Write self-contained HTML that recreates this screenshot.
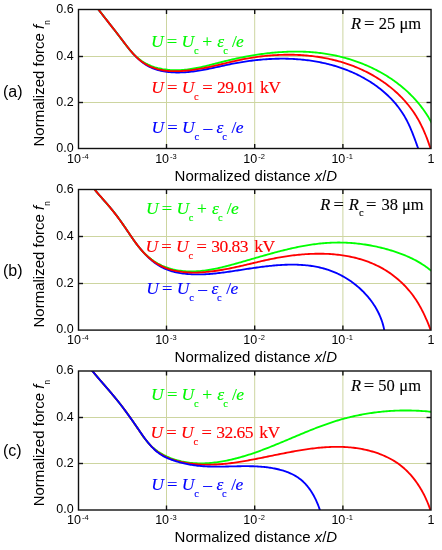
<!DOCTYPE html>
<html><head><meta charset="utf-8"><style>
html,body{margin:0;padding:0;background:#fff;}
svg{display:block;}
.tk{font-family:"Liberation Sans",Arial,sans-serif;font-size:12.5px;fill:#000;}
.sup{font-family:"Liberation Sans",Arial,sans-serif;font-size:7.5px;fill:#000;}
.ax{font-family:"Liberation Sans",Arial,sans-serif;font-size:15px;fill:#000;}
.pl{font-family:"Liberation Sans",Arial,sans-serif;font-size:16px;fill:#000;}
.eq text{font-family:"Liberation Serif","Times New Roman",serif;stroke-width:0.12px;}
.it{font-style:italic;}
.sb{font-size:10.5px;}
.cv path{fill:none;stroke-width:1.85;stroke-linejoin:round;stroke-linecap:butt;}
</style></head><body>
<svg width="442" height="550" viewBox="0 0 442 550">
<rect width="442" height="550" fill="#fff"/>
<clipPath id="cp0"><rect x="78.50" y="9.50" width="352.55" height="139.00"/></clipPath>
<clipPath id="cp1"><rect x="78.50" y="189.50" width="352.55" height="140.60"/></clipPath>
<clipPath id="cp2"><rect x="78.50" y="371.00" width="352.55" height="139.00"/></clipPath>
<g><line x1="166.50" y1="9.50" x2="166.50" y2="148.50" stroke="#cdd5a0" stroke-width="1"/><line x1="254.70" y1="9.50" x2="254.70" y2="148.50" stroke="#cdd5a0" stroke-width="1"/><line x1="342.90" y1="9.50" x2="342.90" y2="148.50" stroke="#cdd5a0" stroke-width="1"/><line x1="78.50" y1="102.50" x2="431.05" y2="102.50" stroke="#cdd5a0" stroke-width="1"/><line x1="78.50" y1="56.50" x2="431.05" y2="56.50" stroke="#cdd5a0" stroke-width="1"/></g>
<g class="cv"><path clip-path="url(#cp0)" d="M96.52,6.96 L97.45,8.18 L98.38,9.40 L99.31,10.62 L100.24,11.83 L101.17,13.03 L102.11,14.24 L103.04,15.44 L103.98,16.64 L104.91,17.84 L105.85,19.03 L106.79,20.23 L107.72,21.42 L108.66,22.61 L109.60,23.81 L110.53,25.00 L111.47,26.19 L112.41,27.38 L113.34,28.58 L114.28,29.77 L115.21,30.97 L116.15,32.17 L117.08,33.37 L118.01,34.57 L118.94,35.77 L119.87,36.98 L120.79,38.20 L121.72,39.41 L122.64,40.63 L123.56,41.85 L124.49,43.07 L125.42,44.29 L126.35,45.51 L127.30,46.72 L128.24,47.92 L129.20,49.11 L130.18,50.30 L131.16,51.47 L132.16,52.62 L133.17,53.76 L134.21,54.88 L135.26,55.98 L136.33,57.06 L137.43,58.11 L138.54,59.14 L139.68,60.14 L140.84,61.10 L142.02,62.04 L143.22,62.93 L144.45,63.79 L145.70,64.61 L146.97,65.39 L148.27,66.12 L149.59,66.81 L150.93,67.45 L152.30,68.04 L153.69,68.60 L155.09,69.11 L156.52,69.58 L157.96,70.01 L159.42,70.40 L160.89,70.75 L162.37,71.07 L163.87,71.35 L165.37,71.60 L166.89,71.82 L168.41,72.00 L169.94,72.15 L171.48,72.28 L173.02,72.37 L174.56,72.44 L176.11,72.48 L177.66,72.49 L179.20,72.48 L180.75,72.45 L182.29,72.40 L183.83,72.32 L185.36,72.22 L186.89,72.11 L188.41,71.98 L189.93,71.83 L191.44,71.66 L192.95,71.48 L194.46,71.29 L195.96,71.08 L197.46,70.85 L198.95,70.62 L200.44,70.37 L201.93,70.11 L203.42,69.85 L204.91,69.57 L206.39,69.28 L207.87,68.99 L209.35,68.69 L210.83,68.39 L212.30,68.08 L213.78,67.76 L215.26,67.44 L216.73,67.12 L218.21,66.80 L219.69,66.48 L221.16,66.15 L222.64,65.83 L224.12,65.51 L225.60,65.19 L227.08,64.87 L228.56,64.56 L230.05,64.25 L231.54,63.95 L233.03,63.66 L234.52,63.37 L236.02,63.09 L237.52,62.82 L239.02,62.55 L240.52,62.29 L242.03,62.04 L243.54,61.80 L245.05,61.57 L246.56,61.35 L248.08,61.13 L249.60,60.92 L251.12,60.72 L252.64,60.53 L254.16,60.35 L255.69,60.18 L257.21,60.01 L258.74,59.86 L260.27,59.71 L261.79,59.58 L263.32,59.45 L264.86,59.33 L266.39,59.22 L267.92,59.12 L269.45,59.03 L270.98,58.96 L272.52,58.89 L274.05,58.83 L275.59,58.78 L277.12,58.74 L278.65,58.71 L280.19,58.69 L281.72,58.68 L283.25,58.69 L284.78,58.70 L286.31,58.73 L287.84,58.76 L289.37,58.81 L290.90,58.86 L292.43,58.93 L293.96,59.01 L295.48,59.10 L297.00,59.21 L298.53,59.32 L300.05,59.45 L301.57,59.58 L303.08,59.73 L304.60,59.89 L306.11,60.07 L307.62,60.25 L309.13,60.45 L310.63,60.66 L312.14,60.88 L313.64,61.11 L315.13,61.36 L316.63,61.62 L318.12,61.89 L319.61,62.18 L321.10,62.48 L322.58,62.79 L324.06,63.11 L325.53,63.45 L327.00,63.80 L328.47,64.17 L329.94,64.55 L331.40,64.94 L332.85,65.34 L334.31,65.76 L335.75,66.20 L337.20,66.65 L338.64,67.11 L340.07,67.58 L341.50,68.07 L342.93,68.58 L344.35,69.10 L345.76,69.63 L347.17,70.18 L348.58,70.74 L349.98,71.32 L351.37,71.91 L352.76,72.52 L354.14,73.14 L355.52,73.78 L356.89,74.44 L358.25,75.11 L359.61,75.79 L360.96,76.49 L362.30,77.20 L363.64,77.93 L364.96,78.68 L366.28,79.44 L367.59,80.22 L368.89,81.01 L370.18,81.81 L371.46,82.64 L372.73,83.47 L373.98,84.33 L375.23,85.20 L376.47,86.08 L377.69,86.98 L378.90,87.89 L380.10,88.82 L381.29,89.77 L382.46,90.73 L383.62,91.71 L384.77,92.70 L385.90,93.70 L387.01,94.73 L388.11,95.77 L389.20,96.82 L390.27,97.89 L391.32,98.97 L392.36,100.07 L393.38,101.19 L394.39,102.32 L395.37,103.47 L396.34,104.63 L397.29,105.81 L398.23,107.00 L399.14,108.21 L400.03,109.44 L400.91,110.68 L401.76,111.93 L402.60,113.21 L403.41,114.49 L404.20,115.80 L404.97,117.11 L405.72,118.45 L406.45,119.80 L407.16,121.16 L407.85,122.54 L408.52,123.92 L409.17,125.32 L409.81,126.73 L410.43,128.14 L411.04,129.57 L411.63,130.99 L412.22,132.43 L412.79,133.86 L413.34,135.30 L413.89,136.74 L414.43,138.18 L414.97,139.62 L415.49,141.06 L416.02,142.49 L416.53,143.92 L417.04,145.34 L417.55,146.76 L418.06,148.17 L418.57,149.57 L419.07,150.96" stroke="#0000ff"/>
<path clip-path="url(#cp0)" d="M96.51,6.98 L97.44,8.18 L98.36,9.37 L99.28,10.57 L100.21,11.75 L101.13,12.94 L102.05,14.13 L102.98,15.31 L103.91,16.50 L104.83,17.68 L105.76,18.86 L106.68,20.04 L107.61,21.22 L108.53,22.40 L109.46,23.59 L110.38,24.77 L111.31,25.95 L112.23,27.13 L113.15,28.32 L114.07,29.50 L114.99,30.69 L115.91,31.88 L116.83,33.07 L117.75,34.27 L118.66,35.47 L119.58,36.67 L120.49,37.87 L121.40,39.08 L122.31,40.29 L123.22,41.50 L124.13,42.71 L125.05,43.92 L125.97,45.12 L126.90,46.31 L127.84,47.49 L128.79,48.67 L129.75,49.82 L130.73,50.96 L131.72,52.08 L132.73,53.18 L133.77,54.26 L134.82,55.31 L135.90,56.33 L137.01,57.32 L138.14,58.27 L139.29,59.20 L140.48,60.09 L141.68,60.94 L142.92,61.75 L144.18,62.53 L145.47,63.26 L146.78,63.95 L148.12,64.60 L149.48,65.21 L150.86,65.79 L152.26,66.32 L153.68,66.82 L155.11,67.28 L156.56,67.71 L158.02,68.10 L159.50,68.45 L160.98,68.77 L162.47,69.06 L163.98,69.31 L165.48,69.53 L166.99,69.72 L168.51,69.88 L170.02,70.01 L171.54,70.10 L173.05,70.17 L174.56,70.21 L176.07,70.22 L177.57,70.20 L179.08,70.16 L180.57,70.09 L182.07,70.00 L183.56,69.89 L185.04,69.75 L186.53,69.59 L188.01,69.41 L189.49,69.21 L190.97,69.00 L192.44,68.76 L193.92,68.51 L195.39,68.25 L196.86,67.97 L198.33,67.68 L199.80,67.37 L201.26,67.05 L202.73,66.73 L204.19,66.39 L205.66,66.05 L207.12,65.69 L208.58,65.34 L210.05,64.97 L211.51,64.60 L212.97,64.23 L214.44,63.86 L215.90,63.48 L217.37,63.11 L218.83,62.73 L220.30,62.36 L221.77,61.98 L223.24,61.62 L224.71,61.25 L226.18,60.89 L227.65,60.54 L229.13,60.19 L230.60,59.85 L232.08,59.51 L233.56,59.17 L235.04,58.85 L236.52,58.52 L238.00,58.21 L239.49,57.90 L240.97,57.59 L242.46,57.30 L243.95,57.00 L245.43,56.72 L246.92,56.44 L248.41,56.17 L249.90,55.90 L251.39,55.64 L252.89,55.39 L254.38,55.14 L255.87,54.91 L257.37,54.67 L258.86,54.45 L260.36,54.23 L261.85,54.03 L263.35,53.83 L264.84,53.63 L266.34,53.45 L267.84,53.27 L269.34,53.10 L270.84,52.94 L272.33,52.79 L273.83,52.65 L275.33,52.51 L276.83,52.38 L278.33,52.27 L279.83,52.16 L281.33,52.06 L282.82,51.97 L284.32,51.89 L285.82,51.81 L287.32,51.75 L288.82,51.70 L290.31,51.66 L291.81,51.62 L293.31,51.60 L294.81,51.59 L296.30,51.58 L297.80,51.59 L299.29,51.61 L300.79,51.64 L302.28,51.68 L303.78,51.73 L305.27,51.79 L306.76,51.86 L308.25,51.94 L309.74,52.04 L311.23,52.14 L312.72,52.26 L314.21,52.39 L315.70,52.53 L317.18,52.68 L318.67,52.84 L320.15,53.02 L321.63,53.20 L323.11,53.40 L324.59,53.62 L326.07,53.84 L327.55,54.08 L329.03,54.33 L330.50,54.59 L331.97,54.87 L333.45,55.15 L334.92,55.46 L336.39,55.77 L337.85,56.10 L339.32,56.44 L340.78,56.79 L342.24,57.16 L343.70,57.54 L345.15,57.94 L346.61,58.34 L348.05,58.76 L349.50,59.20 L350.94,59.64 L352.38,60.10 L353.81,60.57 L355.24,61.06 L356.67,61.56 L358.09,62.07 L359.51,62.59 L360.92,63.13 L362.33,63.68 L363.73,64.25 L365.12,64.82 L366.52,65.41 L367.90,66.02 L369.28,66.63 L370.65,67.26 L372.02,67.91 L373.38,68.56 L374.73,69.23 L376.08,69.91 L377.41,70.61 L378.75,71.31 L380.07,72.03 L381.39,72.77 L382.69,73.51 L384.00,74.27 L385.29,75.05 L386.57,75.83 L387.85,76.63 L389.11,77.44 L390.37,78.27 L391.62,79.10 L392.86,79.95 L394.08,80.82 L395.30,81.70 L396.51,82.58 L397.71,83.49 L398.90,84.40 L400.08,85.33 L401.25,86.27 L402.40,87.23 L403.55,88.19 L404.68,89.17 L405.81,90.17 L406.92,91.17 L408.02,92.19 L409.11,93.23 L410.18,94.27 L411.24,95.33 L412.29,96.40 L413.33,97.48 L414.36,98.58 L415.37,99.69 L416.36,100.81 L417.35,101.95 L418.32,103.09 L419.28,104.26 L420.22,105.43 L421.15,106.62 L422.06,107.82 L422.96,109.03 L423.84,110.25 L424.71,111.49 L425.57,112.74 L426.41,114.01 L427.23,115.28 L428.04,116.57 L428.83,117.88 L429.60,119.19 L430.36,120.52 L431.10,121.86 L431.83,123.22" stroke="#00ff00"/>
<path clip-path="url(#cp0)" d="M96.54,6.95 L97.49,8.22 L98.44,9.48 L99.40,10.74 L100.35,11.99 L101.31,13.24 L102.28,14.49 L103.24,15.73 L104.21,16.97 L105.18,18.21 L106.14,19.44 L107.11,20.68 L108.09,21.91 L109.06,23.14 L110.03,24.37 L111.00,25.60 L111.97,26.83 L112.94,28.06 L113.91,29.29 L114.88,30.53 L115.85,31.76 L116.81,33.00 L117.77,34.24 L118.74,35.49 L119.70,36.74 L120.65,37.99 L121.61,39.24 L122.56,40.50 L123.51,41.77 L124.46,43.03 L125.42,44.29 L126.38,45.55 L127.35,46.80 L128.33,48.04 L129.32,49.26 L130.33,50.48 L131.35,51.68 L132.39,52.86 L133.45,54.03 L134.54,55.17 L135.64,56.28 L136.78,57.37 L137.94,58.43 L139.12,59.46 L140.33,60.45 L141.57,61.41 L142.83,62.32 L144.11,63.20 L145.42,64.03 L146.76,64.81 L148.12,65.54 L149.50,66.22 L150.91,66.85 L152.34,67.43 L153.79,67.96 L155.27,68.44 L156.75,68.88 L158.26,69.28 L159.78,69.64 L161.32,69.95 L162.87,70.23 L164.43,70.47 L166.00,70.67 L167.58,70.83 L169.17,70.97 L170.76,71.07 L172.36,71.14 L173.96,71.18 L175.57,71.20 L177.17,71.18 L178.78,71.15 L180.38,71.09 L181.98,71.00 L183.58,70.90 L185.17,70.78 L186.75,70.64 L188.33,70.48 L189.90,70.30 L191.47,70.11 L193.04,69.90 L194.60,69.68 L196.15,69.45 L197.70,69.20 L199.25,68.94 L200.79,68.66 L202.33,68.38 L203.87,68.09 L205.40,67.78 L206.93,67.47 L208.46,67.15 L209.98,66.82 L211.51,66.49 L213.03,66.15 L214.55,65.80 L216.07,65.45 L217.59,65.10 L219.11,64.74 L220.62,64.38 L222.14,64.02 L223.66,63.66 L225.17,63.30 L226.69,62.93 L228.21,62.57 L229.73,62.22 L231.25,61.86 L232.77,61.51 L234.29,61.16 L235.82,60.82 L237.34,60.48 L238.87,60.15 L240.40,59.83 L241.94,59.51 L243.48,59.21 L245.02,58.91 L246.56,58.62 L248.11,58.34 L249.66,58.07 L251.21,57.81 L252.77,57.56 L254.33,57.32 L255.89,57.09 L257.45,56.87 L259.02,56.67 L260.59,56.47 L262.16,56.28 L263.73,56.10 L265.30,55.93 L266.88,55.77 L268.46,55.63 L270.03,55.49 L271.61,55.36 L273.19,55.25 L274.77,55.15 L276.36,55.05 L277.94,54.97 L279.52,54.90 L281.11,54.84 L282.69,54.80 L284.28,54.76 L285.86,54.73 L287.44,54.72 L289.03,54.72 L290.61,54.73 L292.20,54.75 L293.78,54.79 L295.36,54.83 L296.94,54.89 L298.52,54.96 L300.10,55.04 L301.68,55.14 L303.25,55.24 L304.83,55.36 L306.40,55.49 L307.97,55.64 L309.54,55.80 L311.11,55.97 L312.68,56.15 L314.24,56.34 L315.80,56.55 L317.36,56.77 L318.92,57.01 L320.47,57.26 L322.02,57.52 L323.56,57.79 L325.11,58.08 L326.65,58.38 L328.19,58.70 L329.72,59.03 L331.25,59.37 L332.78,59.73 L334.30,60.10 L335.82,60.49 L337.33,60.88 L338.84,61.30 L340.34,61.72 L341.84,62.17 L343.34,62.62 L344.83,63.09 L346.32,63.58 L347.80,64.08 L349.27,64.59 L350.74,65.12 L352.21,65.67 L353.67,66.23 L355.12,66.80 L356.57,67.39 L358.01,68.00 L359.44,68.62 L360.87,69.25 L362.30,69.90 L363.71,70.57 L365.12,71.25 L366.52,71.95 L367.92,72.66 L369.31,73.39 L370.69,74.14 L372.06,74.90 L373.42,75.67 L374.78,76.46 L376.12,77.27 L377.46,78.09 L378.79,78.93 L380.11,79.78 L381.42,80.65 L382.71,81.53 L384.00,82.43 L385.28,83.34 L386.54,84.27 L387.80,85.21 L389.04,86.17 L390.27,87.15 L391.49,88.14 L392.69,89.14 L393.88,90.16 L395.06,91.19 L396.23,92.24 L397.38,93.30 L398.52,94.38 L399.64,95.48 L400.75,96.58 L401.85,97.71 L402.93,98.84 L403.99,100.00 L405.04,101.16 L406.07,102.34 L407.09,103.54 L408.09,104.75 L409.07,105.98 L410.04,107.22 L410.99,108.47 L411.92,109.74 L412.83,111.02 L413.72,112.32 L414.60,113.63 L415.46,114.96 L416.30,116.30 L417.11,117.65 L417.91,119.02 L418.69,120.40 L419.46,121.80 L420.20,123.20 L420.92,124.62 L421.63,126.05 L422.32,127.48 L422.99,128.93 L423.65,130.38 L424.29,131.84 L424.91,133.30 L425.52,134.76 L426.11,136.23 L426.69,137.71 L427.25,139.18 L427.80,140.66 L428.33,142.13 L428.86,143.61 L429.36,145.08 L429.86,146.55 L430.34,148.01 L430.82,149.47 L431.28,150.93" stroke="#ff0000"/>
</g>
<g stroke="#111" stroke-width="1.4" fill="none"><rect x="78.50" y="9.50" width="352.55" height="139.00"/><line x1="166.50" y1="9.50" x2="166.50" y2="14.00"/><line x1="166.50" y1="148.50" x2="166.50" y2="144.00"/><line x1="254.70" y1="9.50" x2="254.70" y2="14.00"/><line x1="254.70" y1="148.50" x2="254.70" y2="144.00"/><line x1="342.90" y1="9.50" x2="342.90" y2="14.00"/><line x1="342.90" y1="148.50" x2="342.90" y2="144.00"/><line x1="78.50" y1="102.50" x2="83.00" y2="102.50"/><line x1="431.05" y1="102.50" x2="426.55" y2="102.50"/><line x1="78.50" y1="56.50" x2="83.00" y2="56.50"/><line x1="431.05" y1="56.50" x2="426.55" y2="56.50"/></g>
<text class="tk" x="73.6" y="151.80" text-anchor="end">0.0</text><text class="tk" x="73.6" y="105.80" text-anchor="end">0.2</text><text class="tk" x="73.6" y="59.80" text-anchor="end">0.4</text><text class="tk" x="73.6" y="12.80" text-anchor="end">0.6</text><text class="tk" x="67.00" y="162.60">10<tspan class="sup" dx="1" dy="-3.9">-4</tspan></text><text class="tk" x="155.14" y="162.60">10<tspan class="sup" dx="1" dy="-3.9">-3</tspan></text><text class="tk" x="243.28" y="162.60">10<tspan class="sup" dx="1" dy="-3.9">-2</tspan></text><text class="tk" x="331.41" y="162.60">10<tspan class="sup" dx="1" dy="-3.9">-1</tspan></text><text class="tk" x="427.45" y="162.60">1</text><text class="ax" x="174.6" y="180.60">Normalized distance <tspan class="it">x</tspan>/<tspan class="it">D</tspan></text><text class="ax" transform="translate(43.8,146.50) rotate(-90)">Normalized force <tspan class="it">f</tspan><tspan font-size="8.3" dy="6">n</tspan></text><text class="pl" x="3" y="97.00">(a)</text>
<g><line x1="166.50" y1="189.50" x2="166.50" y2="330.10" stroke="#cdd5a0" stroke-width="1"/><line x1="254.70" y1="189.50" x2="254.70" y2="330.10" stroke="#cdd5a0" stroke-width="1"/><line x1="342.90" y1="189.50" x2="342.90" y2="330.10" stroke="#cdd5a0" stroke-width="1"/><line x1="78.50" y1="283.50" x2="431.05" y2="283.50" stroke="#cdd5a0" stroke-width="1"/><line x1="78.50" y1="236.50" x2="431.05" y2="236.50" stroke="#cdd5a0" stroke-width="1"/></g>
<g class="cv"><path clip-path="url(#cp1)" d="M92.53,186.97 L93.40,188.08 L94.27,189.18 L95.16,190.27 L96.06,191.35 L96.96,192.43 L97.87,193.50 L98.79,194.56 L99.71,195.62 L100.63,196.68 L101.56,197.73 L102.49,198.78 L103.42,199.83 L104.35,200.88 L105.29,201.93 L106.22,202.98 L107.14,204.03 L108.07,205.08 L108.99,206.14 L109.91,207.20 L110.81,208.27 L111.72,209.34 L112.61,210.42 L113.50,211.50 L114.38,212.59 L115.24,213.70 L116.10,214.81 L116.94,215.92 L117.78,217.05 L118.61,218.18 L119.43,219.32 L120.24,220.47 L121.05,221.62 L121.85,222.77 L122.65,223.93 L123.44,225.09 L124.23,226.26 L125.02,227.42 L125.81,228.59 L126.59,229.76 L127.38,230.92 L128.17,232.09 L128.95,233.26 L129.74,234.42 L130.54,235.58 L131.34,236.74 L132.14,237.89 L132.94,239.04 L133.76,240.19 L134.58,241.33 L135.41,242.46 L136.24,243.58 L137.09,244.70 L137.95,245.81 L138.81,246.91 L139.69,248.00 L140.58,249.08 L141.49,250.15 L142.40,251.21 L143.33,252.26 L144.28,253.29 L145.24,254.31 L146.22,255.31 L147.21,256.30 L148.22,257.27 L149.24,258.22 L150.28,259.15 L151.33,260.06 L152.40,260.94 L153.49,261.81 L154.59,262.65 L155.71,263.46 L156.85,264.25 L158.01,265.01 L159.18,265.74 L160.38,266.44 L161.59,267.11 L162.82,267.75 L164.07,268.36 L165.33,268.93 L166.62,269.47 L167.93,269.97 L169.25,270.44 L170.59,270.87 L171.94,271.28 L173.31,271.65 L174.68,272.00 L176.07,272.31 L177.46,272.60 L178.86,272.87 L180.27,273.11 L181.68,273.32 L183.09,273.52 L184.50,273.69 L185.91,273.85 L187.32,273.98 L188.72,274.10 L190.12,274.19 L191.52,274.28 L192.91,274.34 L194.31,274.39 L195.70,274.42 L197.09,274.44 L198.48,274.44 L199.87,274.43 L201.25,274.40 L202.63,274.36 L204.02,274.31 L205.40,274.25 L206.78,274.17 L208.16,274.08 L209.54,273.99 L210.92,273.88 L212.30,273.76 L213.67,273.63 L215.05,273.49 L216.43,273.35 L217.81,273.19 L219.19,273.03 L220.57,272.86 L221.95,272.69 L223.33,272.51 L224.71,272.32 L226.10,272.13 L227.48,271.93 L228.87,271.73 L230.25,271.53 L231.64,271.32 L233.04,271.11 L234.43,270.90 L235.82,270.69 L237.22,270.47 L238.62,270.25 L240.02,270.04 L241.43,269.82 L242.83,269.60 L244.24,269.39 L245.65,269.17 L247.06,268.96 L248.47,268.74 L249.89,268.53 L251.30,268.32 L252.72,268.12 L254.13,267.91 L255.55,267.71 L256.97,267.51 L258.39,267.32 L259.81,267.13 L261.23,266.95 L262.65,266.76 L264.07,266.59 L265.49,266.42 L266.91,266.25 L268.33,266.10 L269.75,265.94 L271.17,265.80 L272.59,265.66 L274.00,265.53 L275.42,265.41 L276.84,265.29 L278.25,265.18 L279.67,265.08 L281.08,264.99 L282.49,264.91 L283.91,264.84 L285.32,264.78 L286.72,264.73 L288.13,264.69 L289.53,264.67 L290.94,264.65 L292.34,264.64 L293.73,264.65 L295.13,264.67 L296.52,264.70 L297.92,264.75 L299.30,264.80 L300.69,264.87 L302.07,264.96 L303.45,265.06 L304.83,265.17 L306.20,265.30 L307.57,265.45 L308.94,265.61 L310.30,265.78 L311.66,265.98 L313.02,266.19 L314.37,266.41 L315.72,266.65 L317.07,266.92 L318.41,267.19 L319.74,267.49 L321.08,267.81 L322.40,268.14 L323.72,268.50 L325.04,268.87 L326.36,269.26 L327.66,269.68 L328.97,270.11 L330.27,270.56 L331.56,271.04 L332.85,271.54 L334.13,272.06 L335.40,272.60 L336.67,273.17 L337.94,273.75 L339.20,274.36 L340.45,274.99 L341.69,275.64 L342.92,276.32 L344.15,277.01 L345.37,277.72 L346.58,278.46 L347.77,279.21 L348.96,279.99 L350.14,280.78 L351.31,281.59 L352.46,282.43 L353.60,283.28 L354.73,284.14 L355.85,285.03 L356.95,285.94 L358.04,286.86 L359.12,287.80 L360.18,288.75 L361.22,289.72 L362.25,290.71 L363.26,291.72 L364.26,292.74 L365.24,293.77 L366.20,294.82 L367.14,295.89 L368.06,296.97 L368.97,298.07 L369.86,299.17 L370.72,300.30 L371.57,301.43 L372.39,302.58 L373.20,303.74 L373.98,304.92 L374.74,306.11 L375.47,307.30 L376.19,308.52 L376.88,309.74 L377.54,310.97 L378.19,312.22 L378.80,313.47 L379.39,314.74 L379.96,316.01 L380.50,317.30 L381.01,318.59 L381.49,319.89 L381.95,321.21 L382.38,322.53 L382.78,323.86 L383.15,325.19 L383.49,326.54 L383.81,327.89 L384.09,329.25 L384.34,330.62 L384.56,331.99" stroke="#0000ff"/>
<path clip-path="url(#cp1)" d="M92.51,186.99 L93.44,188.15 L94.39,189.31 L95.34,190.45 L96.30,191.60 L97.26,192.73 L98.23,193.86 L99.21,194.99 L100.19,196.12 L101.17,197.24 L102.16,198.36 L103.14,199.48 L104.13,200.60 L105.11,201.72 L106.10,202.84 L107.08,203.96 L108.05,205.09 L109.03,206.22 L109.99,207.35 L110.95,208.49 L111.91,209.63 L112.85,210.78 L113.79,211.94 L114.71,213.11 L115.63,214.28 L116.54,215.46 L117.43,216.65 L118.32,217.84 L119.20,219.04 L120.07,220.25 L120.93,221.46 L121.79,222.68 L122.64,223.90 L123.49,225.13 L124.33,226.36 L125.17,227.59 L126.01,228.82 L126.85,230.06 L127.69,231.30 L128.53,232.54 L129.36,233.77 L130.20,235.01 L131.04,236.25 L131.89,237.48 L132.74,238.72 L133.59,239.95 L134.45,241.17 L135.33,242.38 L136.21,243.59 L137.10,244.78 L138.01,245.96 L138.94,247.12 L139.88,248.27 L140.84,249.40 L141.83,250.51 L142.83,251.60 L143.86,252.67 L144.90,253.71 L145.97,254.73 L147.06,255.73 L148.17,256.70 L149.31,257.65 L150.46,258.57 L151.63,259.46 L152.83,260.32 L154.04,261.15 L155.28,261.96 L156.53,262.73 L157.80,263.48 L159.10,264.19 L160.41,264.86 L161.74,265.51 L163.09,266.12 L164.46,266.70 L165.84,267.24 L167.25,267.74 L168.67,268.21 L170.11,268.64 L171.56,269.04 L173.02,269.41 L174.49,269.74 L175.98,270.04 L177.47,270.31 L178.96,270.55 L180.46,270.76 L181.96,270.94 L183.47,271.09 L184.97,271.21 L186.47,271.30 L187.97,271.37 L189.47,271.42 L190.96,271.44 L192.45,271.43 L193.94,271.40 L195.42,271.35 L196.91,271.28 L198.39,271.18 L199.87,271.06 L201.34,270.93 L202.82,270.77 L204.29,270.60 L205.76,270.41 L207.23,270.20 L208.69,269.97 L210.16,269.73 L211.62,269.48 L213.08,269.20 L214.54,268.92 L216.00,268.62 L217.45,268.31 L218.91,267.99 L220.36,267.66 L221.81,267.32 L223.26,266.97 L224.71,266.61 L226.16,266.24 L227.61,265.87 L229.06,265.49 L230.50,265.10 L231.95,264.71 L233.39,264.31 L234.83,263.91 L236.28,263.51 L237.72,263.10 L239.16,262.70 L240.60,262.29 L242.04,261.88 L243.48,261.46 L244.92,261.05 L246.36,260.63 L247.80,260.22 L249.24,259.80 L250.68,259.38 L252.11,258.97 L253.55,258.55 L254.99,258.13 L256.43,257.72 L257.86,257.30 L259.30,256.89 L260.74,256.48 L262.18,256.07 L263.62,255.66 L265.05,255.25 L266.49,254.85 L267.93,254.44 L269.37,254.04 L270.81,253.65 L272.25,253.25 L273.69,252.86 L275.13,252.47 L276.57,252.09 L278.01,251.71 L279.45,251.34 L280.89,250.97 L282.33,250.60 L283.78,250.24 L285.22,249.89 L286.67,249.54 L288.11,249.19 L289.56,248.86 L291.00,248.52 L292.45,248.20 L293.90,247.88 L295.35,247.57 L296.80,247.26 L298.25,246.96 L299.70,246.67 L301.16,246.39 L302.61,246.12 L304.07,245.85 L305.53,245.59 L306.98,245.34 L308.44,245.10 L309.90,244.87 L311.37,244.65 L312.83,244.44 L314.29,244.24 L315.76,244.05 L317.23,243.86 L318.70,243.69 L320.17,243.53 L321.64,243.38 L323.12,243.25 L324.59,243.12 L326.07,243.00 L327.55,242.90 L329.03,242.81 L330.51,242.73 L332.00,242.67 L333.49,242.61 L334.97,242.57 L336.47,242.55 L337.96,242.54 L339.45,242.54 L340.95,242.55 L342.45,242.58 L343.94,242.62 L345.44,242.67 L346.94,242.74 L348.44,242.82 L349.94,242.91 L351.44,243.01 L352.94,243.13 L354.44,243.26 L355.94,243.40 L357.44,243.56 L358.94,243.73 L360.44,243.91 L361.93,244.10 L363.43,244.31 L364.92,244.53 L366.41,244.76 L367.90,245.00 L369.38,245.26 L370.86,245.52 L372.34,245.80 L373.82,246.09 L375.29,246.40 L376.76,246.71 L378.23,247.04 L379.69,247.38 L381.15,247.73 L382.61,248.09 L384.06,248.46 L385.50,248.85 L386.94,249.25 L388.38,249.65 L389.81,250.07 L391.23,250.50 L392.65,250.95 L394.06,251.40 L395.47,251.86 L396.87,252.34 L398.26,252.82 L399.65,253.32 L401.03,253.83 L402.41,254.35 L403.77,254.89 L405.13,255.44 L406.49,256.01 L407.83,256.59 L409.17,257.18 L410.50,257.80 L411.83,258.43 L413.15,259.08 L414.46,259.74 L415.76,260.43 L417.05,261.13 L418.34,261.86 L419.62,262.60 L420.89,263.37 L422.15,264.16 L423.40,264.97 L424.65,265.81 L425.89,266.67 L427.12,267.55 L428.34,268.46 L429.55,269.40 L430.76,270.36 L431.95,271.35" stroke="#00ff00"/>
<path clip-path="url(#cp1)" d="M92.46,187.02 L93.49,188.25 L94.52,189.47 L95.56,190.69 L96.61,191.90 L97.66,193.11 L98.72,194.32 L99.78,195.52 L100.83,196.72 L101.89,197.93 L102.95,199.13 L104.00,200.33 L105.05,201.54 L106.10,202.74 L107.14,203.96 L108.17,205.17 L109.20,206.39 L110.21,207.62 L111.22,208.85 L112.22,210.09 L113.21,211.34 L114.20,212.59 L115.17,213.85 L116.14,215.11 L117.11,216.38 L118.06,217.65 L119.01,218.93 L119.95,220.21 L120.89,221.50 L121.82,222.80 L122.75,224.10 L123.67,225.41 L124.58,226.72 L125.49,228.04 L126.40,229.36 L127.30,230.69 L128.21,232.02 L129.11,233.35 L130.01,234.68 L130.91,236.01 L131.82,237.34 L132.73,238.67 L133.65,239.98 L134.58,241.29 L135.52,242.60 L136.48,243.89 L137.44,245.17 L138.43,246.43 L139.42,247.69 L140.44,248.92 L141.48,250.14 L142.54,251.33 L143.62,252.51 L144.72,253.66 L145.85,254.79 L147.00,255.89 L148.17,256.97 L149.36,258.01 L150.57,259.03 L151.80,260.01 L153.06,260.96 L154.33,261.88 L155.63,262.76 L156.95,263.60 L158.29,264.40 L159.64,265.16 L161.02,265.88 L162.43,266.55 L163.84,267.19 L165.28,267.78 L166.74,268.34 L168.21,268.85 L169.70,269.33 L171.20,269.77 L172.72,270.18 L174.25,270.55 L175.80,270.88 L177.35,271.19 L178.92,271.46 L180.50,271.70 L182.09,271.91 L183.69,272.08 L185.29,272.23 L186.91,272.36 L188.53,272.45 L190.15,272.52 L191.78,272.56 L193.42,272.58 L195.06,272.58 L196.70,272.55 L198.34,272.50 L199.98,272.43 L201.63,272.34 L203.27,272.23 L204.92,272.10 L206.56,271.95 L208.20,271.79 L209.83,271.62 L211.46,271.42 L213.09,271.22 L214.71,271.00 L216.32,270.77 L217.93,270.52 L219.52,270.27 L221.12,270.01 L222.70,269.74 L224.28,269.45 L225.85,269.16 L227.42,268.86 L228.99,268.56 L230.54,268.24 L232.10,267.92 L233.65,267.59 L235.19,267.26 L236.74,266.92 L238.28,266.58 L239.81,266.23 L241.35,265.88 L242.88,265.53 L244.41,265.17 L245.94,264.81 L247.47,264.45 L248.99,264.09 L250.52,263.73 L252.05,263.36 L253.57,263.00 L255.10,262.64 L256.63,262.28 L258.16,261.92 L259.69,261.56 L261.22,261.21 L262.75,260.86 L264.29,260.51 L265.83,260.17 L267.37,259.83 L268.92,259.50 L270.47,259.18 L272.02,258.86 L273.58,258.54 L275.14,258.24 L276.71,257.94 L278.28,257.65 L279.86,257.37 L281.44,257.10 L283.03,256.83 L284.62,256.58 L286.21,256.33 L287.81,256.10 L289.41,255.87 L291.02,255.65 L292.62,255.45 L294.23,255.25 L295.85,255.07 L297.46,254.89 L299.08,254.73 L300.70,254.58 L302.32,254.44 L303.94,254.31 L305.56,254.19 L307.18,254.09 L308.81,254.00 L310.43,253.92 L312.06,253.85 L313.68,253.80 L315.31,253.76 L316.93,253.73 L318.55,253.72 L320.17,253.72 L321.79,253.74 L323.41,253.77 L325.03,253.81 L326.64,253.87 L328.26,253.95 L329.87,254.04 L331.48,254.14 L333.08,254.27 L334.68,254.40 L336.28,254.56 L337.87,254.73 L339.47,254.92 L341.05,255.12 L342.63,255.34 L344.21,255.58 L345.79,255.84 L347.35,256.12 L348.92,256.41 L350.47,256.72 L352.03,257.05 L353.57,257.40 L355.11,257.77 L356.64,258.15 L358.17,258.56 L359.69,258.99 L361.20,259.43 L362.71,259.90 L364.21,260.39 L365.70,260.89 L367.18,261.42 L368.65,261.97 L370.12,262.54 L371.57,263.14 L373.02,263.75 L374.46,264.39 L375.89,265.04 L377.31,265.72 L378.71,266.43 L380.11,267.15 L381.50,267.90 L382.88,268.68 L384.25,269.47 L385.60,270.29 L386.95,271.14 L388.28,272.00 L389.60,272.89 L390.91,273.81 L392.20,274.74 L393.49,275.70 L394.75,276.68 L396.00,277.69 L397.24,278.71 L398.46,279.75 L399.67,280.82 L400.85,281.90 L402.03,283.01 L403.18,284.13 L404.31,285.27 L405.43,286.44 L406.53,287.62 L407.61,288.81 L408.66,290.03 L409.70,291.26 L410.72,292.51 L411.71,293.78 L412.68,295.06 L413.63,296.36 L414.56,297.67 L415.46,299.00 L416.35,300.35 L417.21,301.70 L418.05,303.07 L418.87,304.45 L419.67,305.85 L420.45,307.25 L421.22,308.66 L421.96,310.08 L422.69,311.51 L423.40,312.95 L424.10,314.39 L424.78,315.84 L425.45,317.30 L426.10,318.76 L426.74,320.22 L427.37,321.68 L427.99,323.15 L428.59,324.62 L429.18,326.10 L429.76,327.57 L430.34,329.04 L430.90,330.51 L431.45,331.97" stroke="#ff0000"/>
</g>
<g stroke="#111" stroke-width="1.4" fill="none"><rect x="78.50" y="189.50" width="352.55" height="140.60"/><line x1="166.50" y1="189.50" x2="166.50" y2="194.00"/><line x1="166.50" y1="330.10" x2="166.50" y2="325.60"/><line x1="254.70" y1="189.50" x2="254.70" y2="194.00"/><line x1="254.70" y1="330.10" x2="254.70" y2="325.60"/><line x1="342.90" y1="189.50" x2="342.90" y2="194.00"/><line x1="342.90" y1="330.10" x2="342.90" y2="325.60"/><line x1="78.50" y1="283.50" x2="83.00" y2="283.50"/><line x1="431.05" y1="283.50" x2="426.55" y2="283.50"/><line x1="78.50" y1="236.50" x2="83.00" y2="236.50"/><line x1="431.05" y1="236.50" x2="426.55" y2="236.50"/></g>
<text class="tk" x="73.6" y="333.40" text-anchor="end">0.0</text><text class="tk" x="73.6" y="286.80" text-anchor="end">0.2</text><text class="tk" x="73.6" y="239.80" text-anchor="end">0.4</text><text class="tk" x="73.6" y="192.80" text-anchor="end">0.6</text><text class="tk" x="67.00" y="344.20">10<tspan class="sup" dx="1" dy="-3.9">-4</tspan></text><text class="tk" x="155.14" y="344.20">10<tspan class="sup" dx="1" dy="-3.9">-3</tspan></text><text class="tk" x="243.28" y="344.20">10<tspan class="sup" dx="1" dy="-3.9">-2</tspan></text><text class="tk" x="331.41" y="344.20">10<tspan class="sup" dx="1" dy="-3.9">-1</tspan></text><text class="tk" x="427.45" y="344.20">1</text><text class="ax" x="174.6" y="362.20">Normalized distance <tspan class="it">x</tspan>/<tspan class="it">D</tspan></text><text class="ax" transform="translate(43.8,327.50) rotate(-90)">Normalized force <tspan class="it">f</tspan><tspan font-size="8.3" dy="6">n</tspan></text><text class="pl" x="3" y="276.40">(b)</text>
<g><line x1="166.50" y1="371.00" x2="166.50" y2="510.00" stroke="#cdd5a0" stroke-width="1"/><line x1="254.70" y1="371.00" x2="254.70" y2="510.00" stroke="#cdd5a0" stroke-width="1"/><line x1="342.90" y1="371.00" x2="342.90" y2="510.00" stroke="#cdd5a0" stroke-width="1"/><line x1="78.50" y1="463.50" x2="431.05" y2="463.50" stroke="#cdd5a0" stroke-width="1"/><line x1="78.50" y1="417.50" x2="431.05" y2="417.50" stroke="#cdd5a0" stroke-width="1"/></g>
<g class="cv"><path clip-path="url(#cp2)" d="M90.33,368.48 L91.28,369.66 L92.24,370.82 L93.20,371.99 L94.17,373.15 L95.14,374.31 L96.12,375.47 L97.10,376.62 L98.08,377.78 L99.06,378.93 L100.05,380.08 L101.04,381.23 L102.03,382.38 L103.02,383.52 L104.01,384.67 L105.00,385.82 L105.99,386.97 L106.98,388.11 L107.97,389.26 L108.95,390.42 L109.94,391.57 L110.92,392.72 L111.90,393.88 L112.88,395.04 L113.85,396.20 L114.82,397.36 L115.79,398.53 L116.74,399.70 L117.70,400.87 L118.65,402.05 L119.59,403.23 L120.53,404.42 L121.46,405.61 L122.38,406.81 L123.29,408.01 L124.20,409.22 L125.10,410.43 L126.00,411.64 L126.89,412.86 L127.78,414.09 L128.66,415.31 L129.54,416.55 L130.41,417.78 L131.28,419.02 L132.14,420.26 L133.01,421.51 L133.87,422.76 L134.72,424.01 L135.58,425.27 L136.43,426.53 L137.28,427.79 L138.13,429.06 L138.98,430.32 L139.84,431.59 L140.69,432.86 L141.55,434.12 L142.42,435.37 L143.30,436.61 L144.20,437.84 L145.11,439.05 L146.03,440.24 L146.98,441.41 L147.95,442.55 L148.95,443.67 L149.97,444.76 L151.03,445.82 L152.11,446.84 L153.22,447.83 L154.36,448.78 L155.53,449.71 L156.73,450.60 L157.94,451.46 L159.19,452.29 L160.45,453.08 L161.74,453.84 L163.05,454.58 L164.37,455.28 L165.72,455.95 L167.08,456.59 L168.46,457.20 L169.86,457.78 L171.27,458.33 L172.69,458.84 L174.13,459.33 L175.57,459.79 L177.03,460.23 L178.50,460.63 L179.97,461.00 L181.45,461.35 L182.94,461.66 L184.44,461.95 L185.93,462.21 L187.44,462.44 L188.94,462.65 L190.45,462.83 L191.96,462.98 L193.47,463.11 L194.98,463.21 L196.50,463.29 L198.01,463.35 L199.53,463.38 L201.05,463.39 L202.57,463.37 L204.09,463.34 L205.61,463.28 L207.13,463.20 L208.65,463.10 L210.17,462.99 L211.68,462.85 L213.20,462.70 L214.72,462.52 L216.23,462.33 L217.74,462.13 L219.25,461.90 L220.76,461.66 L222.27,461.41 L223.77,461.14 L225.27,460.86 L226.76,460.56 L228.25,460.25 L229.74,459.92 L231.23,459.59 L232.71,459.24 L234.18,458.88 L235.65,458.51 L237.12,458.13 L238.59,457.74 L240.05,457.34 L241.50,456.93 L242.96,456.50 L244.41,456.07 L245.85,455.63 L247.30,455.18 L248.74,454.72 L250.18,454.26 L251.61,453.78 L253.04,453.30 L254.47,452.81 L255.90,452.31 L257.32,451.81 L258.75,451.29 L260.17,450.78 L261.58,450.25 L263.00,449.72 L264.41,449.19 L265.82,448.65 L267.23,448.10 L268.64,447.55 L270.05,446.99 L271.45,446.43 L272.86,445.87 L274.26,445.30 L275.66,444.73 L277.06,444.16 L278.46,443.58 L279.86,443.00 L281.25,442.42 L282.65,441.84 L284.05,441.25 L285.44,440.67 L286.84,440.08 L288.23,439.49 L289.63,438.90 L291.02,438.31 L292.41,437.72 L293.81,437.13 L295.20,436.54 L296.60,435.95 L297.99,435.37 L299.39,434.78 L300.78,434.20 L302.18,433.62 L303.58,433.04 L304.97,432.46 L306.37,431.88 L307.77,431.31 L309.17,430.74 L310.58,430.18 L311.98,429.62 L313.38,429.06 L314.79,428.51 L316.20,427.96 L317.61,427.42 L319.02,426.88 L320.43,426.35 L321.85,425.83 L323.27,425.31 L324.69,424.79 L326.11,424.29 L327.53,423.79 L328.96,423.29 L330.39,422.81 L331.82,422.33 L333.25,421.86 L334.69,421.40 L336.13,420.95 L337.58,420.51 L339.02,420.07 L340.47,419.65 L341.93,419.23 L343.38,418.83 L344.84,418.43 L346.31,418.05 L347.77,417.67 L349.24,417.30 L350.71,416.95 L352.19,416.60 L353.66,416.26 L355.14,415.93 L356.62,415.62 L358.11,415.31 L359.59,415.01 L361.08,414.72 L362.57,414.44 L364.06,414.17 L365.56,413.91 L367.05,413.65 L368.55,413.41 L370.05,413.18 L371.55,412.96 L373.06,412.74 L374.56,412.54 L376.07,412.35 L377.57,412.16 L379.08,411.99 L380.59,411.82 L382.10,411.67 L383.61,411.52 L385.12,411.38 L386.64,411.26 L388.15,411.14 L389.67,411.03 L391.18,410.93 L392.69,410.84 L394.21,410.76 L395.73,410.69 L397.24,410.63 L398.76,410.58 L400.27,410.54 L401.79,410.51 L403.31,410.49 L404.82,410.47 L406.34,410.47 L407.85,410.48 L409.37,410.49 L410.88,410.52 L412.39,410.55 L413.91,410.60 L415.42,410.65 L416.93,410.71 L418.44,410.79 L419.95,410.87 L421.45,410.96 L422.96,411.06 L424.47,411.17 L425.97,411.29 L427.47,411.42 L428.97,411.56 L430.47,411.71 L431.97,411.87" stroke="#00ff00"/>
<path clip-path="url(#cp2)" d="M90.33,368.49 L91.34,369.72 L92.35,370.96 L93.37,372.19 L94.39,373.42 L95.42,374.64 L96.45,375.86 L97.49,377.08 L98.53,378.30 L99.57,379.52 L100.61,380.73 L101.66,381.95 L102.71,383.16 L103.76,384.37 L104.81,385.59 L105.85,386.80 L106.90,388.02 L107.95,389.23 L108.99,390.45 L110.03,391.67 L111.07,392.89 L112.11,394.12 L113.14,395.34 L114.17,396.57 L115.19,397.80 L116.21,399.04 L117.22,400.28 L118.23,401.53 L119.22,402.77 L120.21,404.03 L121.20,405.29 L122.17,406.55 L123.14,407.82 L124.09,409.10 L125.05,410.38 L125.99,411.66 L126.93,412.95 L127.86,414.24 L128.79,415.54 L129.72,416.84 L130.64,418.15 L131.56,419.46 L132.47,420.77 L133.38,422.09 L134.29,423.41 L135.20,424.73 L136.11,426.06 L137.02,427.39 L137.93,428.72 L138.84,430.05 L139.75,431.38 L140.67,432.72 L141.59,434.04 L142.52,435.36 L143.46,436.68 L144.41,437.98 L145.38,439.26 L146.36,440.53 L147.35,441.77 L148.37,443.00 L149.41,444.20 L150.46,445.37 L151.55,446.51 L152.66,447.62 L153.80,448.70 L154.97,449.73 L156.17,450.73 L157.41,451.68 L158.67,452.59 L159.97,453.46 L161.30,454.30 L162.65,455.09 L164.03,455.84 L165.44,456.56 L166.87,457.24 L168.33,457.88 L169.80,458.49 L171.30,459.07 L172.81,459.61 L174.34,460.11 L175.89,460.59 L177.45,461.04 L179.03,461.45 L180.61,461.84 L182.21,462.20 L183.82,462.52 L185.43,462.83 L187.05,463.10 L188.68,463.35 L190.31,463.58 L191.95,463.78 L193.58,463.96 L195.22,464.12 L196.85,464.26 L198.48,464.37 L200.11,464.47 L201.73,464.55 L203.35,464.61 L204.96,464.65 L206.57,464.67 L208.17,464.68 L209.77,464.66 L211.36,464.64 L212.95,464.59 L214.54,464.54 L216.12,464.46 L217.70,464.38 L219.28,464.27 L220.86,464.16 L222.43,464.03 L224.00,463.89 L225.57,463.74 L227.13,463.57 L228.70,463.39 L230.26,463.21 L231.83,463.01 L233.39,462.80 L234.95,462.58 L236.51,462.35 L238.07,462.12 L239.63,461.87 L241.19,461.62 L242.75,461.36 L244.32,461.09 L245.88,460.82 L247.44,460.54 L249.01,460.25 L250.58,459.96 L252.15,459.67 L253.72,459.36 L255.29,459.06 L256.87,458.75 L258.44,458.44 L260.02,458.12 L261.60,457.81 L263.18,457.49 L264.76,457.16 L266.34,456.84 L267.93,456.52 L269.51,456.19 L271.10,455.87 L272.69,455.54 L274.28,455.21 L275.86,454.89 L277.45,454.57 L279.05,454.24 L280.64,453.92 L282.23,453.61 L283.82,453.29 L285.42,452.98 L287.01,452.67 L288.60,452.37 L290.20,452.06 L291.79,451.77 L293.39,451.48 L294.99,451.19 L296.58,450.91 L298.18,450.64 L299.77,450.37 L301.37,450.11 L302.96,449.85 L304.56,449.61 L306.16,449.37 L307.75,449.14 L309.35,448.91 L310.94,448.70 L312.54,448.50 L314.13,448.31 L315.72,448.12 L317.32,447.95 L318.91,447.79 L320.50,447.64 L322.09,447.50 L323.68,447.37 L325.27,447.26 L326.86,447.16 L328.44,447.07 L330.03,446.99 L331.61,446.93 L333.20,446.89 L334.78,446.86 L336.36,446.84 L337.94,446.84 L339.52,446.85 L341.10,446.89 L342.67,446.93 L344.25,447.00 L345.82,447.08 L347.39,447.18 L348.96,447.30 L350.53,447.44 L352.09,447.59 L353.66,447.77 L355.22,447.96 L356.78,448.17 L358.33,448.41 L359.89,448.66 L361.44,448.94 L362.99,449.24 L364.54,449.56 L366.09,449.90 L367.63,450.27 L369.17,450.65 L370.71,451.07 L372.25,451.50 L373.78,451.96 L375.31,452.45 L376.84,452.95 L378.36,453.49 L379.88,454.05 L381.38,454.63 L382.88,455.24 L384.37,455.88 L385.84,456.55 L387.31,457.24 L388.76,457.96 L390.19,458.70 L391.61,459.48 L393.01,460.28 L394.39,461.11 L395.75,461.97 L397.09,462.86 L398.41,463.78 L399.70,464.73 L400.97,465.71 L402.21,466.72 L403.43,467.75 L404.63,468.81 L405.81,469.90 L406.96,471.01 L408.08,472.14 L409.19,473.30 L410.27,474.48 L411.33,475.68 L412.36,476.90 L413.37,478.14 L414.36,479.40 L415.33,480.68 L416.28,481.97 L417.20,483.28 L418.10,484.61 L418.97,485.95 L419.83,487.30 L420.66,488.67 L421.47,490.05 L422.26,491.45 L423.02,492.85 L423.77,494.27 L424.49,495.70 L425.19,497.14 L425.86,498.59 L426.52,500.04 L427.15,501.51 L427.76,502.98 L428.35,504.45 L428.92,505.94 L429.47,507.42 L429.99,508.92 L430.49,510.41 L430.98,511.91" stroke="#ff0000"/>
<path clip-path="url(#cp2)" d="M90.34,368.48 L91.05,369.36 L91.76,370.25 L92.47,371.12 L93.19,372.00 L93.92,372.87 L94.64,373.75 L95.37,374.62 L96.11,375.48 L96.84,376.35 L97.58,377.22 L98.32,378.08 L99.06,378.94 L99.81,379.80 L100.55,380.67 L101.30,381.53 L102.05,382.39 L102.79,383.25 L103.54,384.11 L104.29,384.97 L105.04,385.83 L105.79,386.69 L106.54,387.55 L107.28,388.41 L108.03,389.27 L108.77,390.13 L109.51,391.00 L110.25,391.86 L110.99,392.73 L111.73,393.60 L112.46,394.47 L113.19,395.34 L113.92,396.22 L114.64,397.10 L115.36,397.98 L116.07,398.86 L116.79,399.74 L117.49,400.63 L118.20,401.52 L118.90,402.41 L119.60,403.30 L120.29,404.20 L120.99,405.10 L121.68,406.00 L122.36,406.90 L123.05,407.80 L123.73,408.71 L124.41,409.62 L125.08,410.53 L125.76,411.44 L126.43,412.35 L127.10,413.27 L127.76,414.19 L128.43,415.11 L129.09,416.03 L129.76,416.95 L130.42,417.88 L131.07,418.80 L131.73,419.73 L132.39,420.66 L133.04,421.59 L133.70,422.52 L134.35,423.46 L135.00,424.39 L135.65,425.33 L136.30,426.27 L136.95,427.20 L137.60,428.14 L138.25,429.09 L138.90,430.03 L139.55,430.97 L140.20,431.91 L140.85,432.86 L141.50,433.80 L142.16,434.73 L142.82,435.67 L143.48,436.59 L144.15,437.52 L144.83,438.44 L145.51,439.35 L146.19,440.25 L146.89,441.15 L147.59,442.03 L148.30,442.91 L149.02,443.78 L149.75,444.63 L150.49,445.47 L151.25,446.30 L152.01,447.12 L152.79,447.92 L153.58,448.70 L154.38,449.47 L155.20,450.22 L156.03,450.96 L156.88,451.67 L157.75,452.37 L158.63,453.04 L159.53,453.70 L160.45,454.33 L161.39,454.94 L162.35,455.53 L163.33,456.09 L164.33,456.63 L165.34,457.14 L166.37,457.64 L167.42,458.11 L168.48,458.57 L169.55,459.01 L170.63,459.43 L171.72,459.83 L172.82,460.22 L173.92,460.59 L175.03,460.95 L176.14,461.30 L177.26,461.64 L178.37,461.96 L179.49,462.28 L180.61,462.58 L181.73,462.87 L182.85,463.15 L183.97,463.41 L185.09,463.67 L186.22,463.91 L187.35,464.14 L188.47,464.36 L189.60,464.57 L190.73,464.77 L191.86,464.95 L192.99,465.13 L194.12,465.29 L195.25,465.44 L196.39,465.58 L197.52,465.71 L198.66,465.83 L199.79,465.94 L200.93,466.04 L202.06,466.13 L203.20,466.21 L204.34,466.28 L205.47,466.35 L206.61,466.41 L207.75,466.46 L208.89,466.50 L210.03,466.54 L211.17,466.57 L212.31,466.59 L213.45,466.61 L214.59,466.62 L215.73,466.63 L216.87,466.63 L218.01,466.63 L219.15,466.63 L220.30,466.62 L221.44,466.60 L222.58,466.59 L223.72,466.57 L224.86,466.55 L226.00,466.53 L227.14,466.51 L228.29,466.48 L229.43,466.45 L230.57,466.43 L231.71,466.40 L232.85,466.37 L233.99,466.35 L235.13,466.32 L236.27,466.30 L237.41,466.27 L238.55,466.25 L239.68,466.23 L240.82,466.22 L241.96,466.20 L243.10,466.19 L244.23,466.18 L245.37,466.18 L246.50,466.18 L247.64,466.18 L248.77,466.19 L249.90,466.21 L251.04,466.23 L252.17,466.25 L253.30,466.28 L254.43,466.32 L255.56,466.37 L256.69,466.42 L257.82,466.48 L258.94,466.55 L260.07,466.63 L261.19,466.71 L262.32,466.80 L263.44,466.91 L264.56,467.02 L265.68,467.14 L266.80,467.27 L267.92,467.42 L269.03,467.57 L270.15,467.74 L271.26,467.91 L272.38,468.10 L273.49,468.30 L274.60,468.52 L275.71,468.74 L276.82,468.98 L277.92,469.24 L279.03,469.50 L280.13,469.79 L281.22,470.08 L282.31,470.40 L283.40,470.73 L284.48,471.07 L285.56,471.44 L286.62,471.82 L287.68,472.22 L288.73,472.64 L289.77,473.07 L290.81,473.53 L291.83,474.01 L292.84,474.51 L293.83,475.03 L294.82,475.57 L295.79,476.14 L296.75,476.72 L297.69,477.33 L298.62,477.97 L299.53,478.63 L300.43,479.31 L301.31,480.02 L302.17,480.75 L303.01,481.51 L303.84,482.30 L304.64,483.11 L305.43,483.94 L306.20,484.79 L306.95,485.67 L307.69,486.56 L308.40,487.47 L309.10,488.40 L309.78,489.34 L310.45,490.30 L311.09,491.27 L311.72,492.26 L312.33,493.25 L312.93,494.26 L313.51,495.28 L314.07,496.30 L314.61,497.34 L315.14,498.37 L315.65,499.42 L316.14,500.47 L316.62,501.52 L317.08,502.57 L317.52,503.62 L317.95,504.67 L318.36,505.72 L318.76,506.77 L319.14,507.82 L319.50,508.86 L319.85,509.89 L320.18,510.92 L320.50,511.93" stroke="#0000ff"/>
</g>
<g stroke="#111" stroke-width="1.4" fill="none"><rect x="78.50" y="371.00" width="352.55" height="139.00"/><line x1="166.50" y1="371.00" x2="166.50" y2="375.50"/><line x1="166.50" y1="510.00" x2="166.50" y2="505.50"/><line x1="254.70" y1="371.00" x2="254.70" y2="375.50"/><line x1="254.70" y1="510.00" x2="254.70" y2="505.50"/><line x1="342.90" y1="371.00" x2="342.90" y2="375.50"/><line x1="342.90" y1="510.00" x2="342.90" y2="505.50"/><line x1="78.50" y1="463.50" x2="83.00" y2="463.50"/><line x1="431.05" y1="463.50" x2="426.55" y2="463.50"/><line x1="78.50" y1="417.50" x2="83.00" y2="417.50"/><line x1="431.05" y1="417.50" x2="426.55" y2="417.50"/></g>
<text class="tk" x="73.6" y="513.30" text-anchor="end">0.0</text><text class="tk" x="73.6" y="466.80" text-anchor="end">0.2</text><text class="tk" x="73.6" y="420.80" text-anchor="end">0.4</text><text class="tk" x="73.6" y="374.30" text-anchor="end">0.6</text><text class="tk" x="67.00" y="524.10">10<tspan class="sup" dx="1" dy="-3.9">-4</tspan></text><text class="tk" x="155.14" y="524.10">10<tspan class="sup" dx="1" dy="-3.9">-3</tspan></text><text class="tk" x="243.28" y="524.10">10<tspan class="sup" dx="1" dy="-3.9">-2</tspan></text><text class="tk" x="331.41" y="524.10">10<tspan class="sup" dx="1" dy="-3.9">-1</tspan></text><text class="tk" x="427.45" y="524.10">1</text><text class="ax" x="174.6" y="542.10">Normalized distance <tspan class="it">x</tspan>/<tspan class="it">D</tspan></text><text class="ax" transform="translate(43.8,506.30) rotate(-90)">Normalized force <tspan class="it">f</tspan><tspan font-size="8.3" dy="6">n</tspan></text><text class="pl" x="3" y="456.00">(c)</text>
<g class="eq"><text x="150.97" y="46.80" font-size="17.5" font-style="italic" fill="#00f800" stroke="#00f800">U</text><text transform="translate(166.82 46.80) scale(1 0.85)" font-size="18.5" fill="#00f800" stroke="#00f800">=</text><text x="181.47" y="46.80" font-size="17.5" font-style="italic" fill="#00f800" stroke="#00f800">U</text><text x="193.93" y="53.60" font-size="10.5" fill="#00f800" stroke="#00f800">c</text><text x="202.22" y="46.80" font-size="17.5" fill="#00f800" stroke="#00f800">+</text><text x="217.22" y="46.80" font-size="17.5" font-style="italic" fill="#00f800" stroke="#00f800">ε</text><text x="223.22" y="53.60" font-size="10.5" fill="#00f800" stroke="#00f800">c</text><text x="231.90" y="46.80" font-size="17.5" fill="#00f800" stroke="#00f800">/</text><text x="236.10" y="46.80" font-size="17.5" font-style="italic" fill="#00f800" stroke="#00f800">e</text></g>
<g class="eq"><text x="151.18" y="93.00" font-size="17.5" font-style="italic" fill="#ff0000" stroke="#ff0000">U</text><text transform="translate(167.03 93.00) scale(1 0.85)" font-size="18.5" fill="#ff0000" stroke="#ff0000">=</text><text x="181.68" y="93.00" font-size="17.5" font-style="italic" fill="#ff0000" stroke="#ff0000">U</text><text x="194.12" y="99.80" font-size="10.5" fill="#ff0000" stroke="#ff0000">c</text><text transform="translate(202.33 93.00) scale(1 0.85)" font-size="18.5" fill="#ff0000" stroke="#ff0000">=</text><text x="217.05" y="93.00" font-size="17.5" letter-spacing="-0.5" fill="#ff0000" stroke="#ff0000">29.01</text><text x="260.02" y="93.00" font-size="17.5" letter-spacing="-0.5" fill="#ff0000" stroke="#ff0000">kV</text></g>
<g class="eq"><text x="151.47" y="132.80" font-size="17.5" font-style="italic" fill="#0000ff" stroke="#0000ff">U</text><text transform="translate(167.32 132.80) scale(1 0.85)" font-size="18.5" fill="#0000ff" stroke="#0000ff">=</text><text x="181.97" y="132.80" font-size="17.5" font-style="italic" fill="#0000ff" stroke="#0000ff">U</text><text x="194.43" y="139.60" font-size="10.5" fill="#0000ff" stroke="#0000ff">c</text><text x="203.52" y="132.80" font-size="17.5" fill="#0000ff" stroke="#0000ff">–</text><text x="216.62" y="132.80" font-size="17.5" font-style="italic" fill="#0000ff" stroke="#0000ff">ε</text><text x="222.22" y="139.60" font-size="10.5" fill="#0000ff" stroke="#0000ff">c</text><text x="231.40" y="132.80" font-size="17.5" fill="#0000ff" stroke="#0000ff">/</text><text x="235.70" y="132.80" font-size="17.5" font-style="italic" fill="#0000ff" stroke="#0000ff">e</text></g>
<g class="eq"><text x="145.88" y="214.40" font-size="17.5" font-style="italic" fill="#00f800" stroke="#00f800">U</text><text transform="translate(161.72 214.40) scale(1 0.85)" font-size="18.5" fill="#00f800" stroke="#00f800">=</text><text x="176.38" y="214.40" font-size="17.5" font-style="italic" fill="#00f800" stroke="#00f800">U</text><text x="188.82" y="221.20" font-size="10.5" fill="#00f800" stroke="#00f800">c</text><text x="197.12" y="214.40" font-size="17.5" fill="#00f800" stroke="#00f800">+</text><text x="212.12" y="214.40" font-size="17.5" font-style="italic" fill="#00f800" stroke="#00f800">ε</text><text x="218.12" y="221.20" font-size="10.5" fill="#00f800" stroke="#00f800">c</text><text x="226.80" y="214.40" font-size="17.5" fill="#00f800" stroke="#00f800">/</text><text x="231.00" y="214.40" font-size="17.5" font-style="italic" fill="#00f800" stroke="#00f800">e</text></g>
<g class="eq"><text x="145.47" y="251.70" font-size="17.5" font-style="italic" fill="#ff0000" stroke="#ff0000">U</text><text transform="translate(161.32 251.70) scale(1 0.85)" font-size="18.5" fill="#ff0000" stroke="#ff0000">=</text><text x="175.97" y="251.70" font-size="17.5" font-style="italic" fill="#ff0000" stroke="#ff0000">U</text><text x="188.43" y="258.50" font-size="10.5" fill="#ff0000" stroke="#ff0000">c</text><text transform="translate(196.62 251.70) scale(1 0.85)" font-size="18.5" fill="#ff0000" stroke="#ff0000">=</text><text x="211.22" y="251.70" font-size="17.5" letter-spacing="-0.5" fill="#ff0000" stroke="#ff0000">30.83</text><text x="254.32" y="251.70" font-size="17.5" letter-spacing="-0.5" fill="#ff0000" stroke="#ff0000">kV</text></g>
<g class="eq"><text x="146.28" y="294.40" font-size="17.5" font-style="italic" fill="#0000ff" stroke="#0000ff">U</text><text transform="translate(162.12 294.40) scale(1 0.85)" font-size="18.5" fill="#0000ff" stroke="#0000ff">=</text><text x="176.78" y="294.40" font-size="17.5" font-style="italic" fill="#0000ff" stroke="#0000ff">U</text><text x="189.23" y="301.20" font-size="10.5" fill="#0000ff" stroke="#0000ff">c</text><text x="198.32" y="294.40" font-size="17.5" fill="#0000ff" stroke="#0000ff">–</text><text x="211.43" y="294.40" font-size="17.5" font-style="italic" fill="#0000ff" stroke="#0000ff">ε</text><text x="217.03" y="301.20" font-size="10.5" fill="#0000ff" stroke="#0000ff">c</text><text x="226.20" y="294.40" font-size="17.5" fill="#0000ff" stroke="#0000ff">/</text><text x="230.50" y="294.40" font-size="17.5" font-style="italic" fill="#0000ff" stroke="#0000ff">e</text></g>
<g class="eq"><text x="151.07" y="399.70" font-size="17.5" font-style="italic" fill="#00f800" stroke="#00f800">U</text><text transform="translate(166.92 399.70) scale(1 0.85)" font-size="18.5" fill="#00f800" stroke="#00f800">=</text><text x="181.57" y="399.70" font-size="17.5" font-style="italic" fill="#00f800" stroke="#00f800">U</text><text x="194.02" y="406.50" font-size="10.5" fill="#00f800" stroke="#00f800">c</text><text x="202.32" y="399.70" font-size="17.5" fill="#00f800" stroke="#00f800">+</text><text x="217.32" y="399.70" font-size="17.5" font-style="italic" fill="#00f800" stroke="#00f800">ε</text><text x="223.32" y="406.50" font-size="10.5" fill="#00f800" stroke="#00f800">c</text><text x="232.00" y="399.70" font-size="17.5" fill="#00f800" stroke="#00f800">/</text><text x="236.20" y="399.70" font-size="17.5" font-style="italic" fill="#00f800" stroke="#00f800">e</text></g>
<g class="eq"><text x="150.47" y="438.00" font-size="17.5" font-style="italic" fill="#ff0000" stroke="#ff0000">U</text><text transform="translate(166.32 438.00) scale(1 0.85)" font-size="18.5" fill="#ff0000" stroke="#ff0000">=</text><text x="180.97" y="438.00" font-size="17.5" font-style="italic" fill="#ff0000" stroke="#ff0000">U</text><text x="193.43" y="444.80" font-size="10.5" fill="#ff0000" stroke="#ff0000">c</text><text transform="translate(201.62 438.00) scale(1 0.85)" font-size="18.5" fill="#ff0000" stroke="#ff0000">=</text><text x="216.22" y="438.00" font-size="17.5" letter-spacing="-0.5" fill="#ff0000" stroke="#ff0000">32.65</text><text x="259.32" y="438.00" font-size="17.5" letter-spacing="-0.5" fill="#ff0000" stroke="#ff0000">kV</text></g>
<g class="eq"><text x="151.28" y="490.10" font-size="17.5" font-style="italic" fill="#0000ff" stroke="#0000ff">U</text><text transform="translate(167.12 490.10) scale(1 0.85)" font-size="18.5" fill="#0000ff" stroke="#0000ff">=</text><text x="181.78" y="490.10" font-size="17.5" font-style="italic" fill="#0000ff" stroke="#0000ff">U</text><text x="194.23" y="496.90" font-size="10.5" fill="#0000ff" stroke="#0000ff">c</text><text x="203.32" y="490.10" font-size="17.5" fill="#0000ff" stroke="#0000ff">–</text><text x="216.43" y="490.10" font-size="17.5" font-style="italic" fill="#0000ff" stroke="#0000ff">ε</text><text x="222.03" y="496.90" font-size="10.5" fill="#0000ff" stroke="#0000ff">c</text><text x="231.20" y="490.10" font-size="17.5" fill="#0000ff" stroke="#0000ff">/</text><text x="235.50" y="490.10" font-size="17.5" font-style="italic" fill="#0000ff" stroke="#0000ff">e</text></g>
<g class="eq"><text x="351.12" y="28.95" font-size="16.5" font-style="italic" fill="#000" stroke="#000">R</text><text transform="translate(364.02 28.95) scale(1 0.85)" font-size="18.5" fill="#000" stroke="#000">=</text><text x="378.65" y="28.95" font-size="16.5" fill="#000" stroke="#000">25</text><text x="399.52" y="28.95" font-size="16.5" fill="#000" stroke="#000">μm</text></g>
<g class="eq"><text x="350.93" y="390.50" font-size="16.5" font-style="italic" fill="#000" stroke="#000">R</text><text transform="translate(363.82 390.50) scale(1 0.85)" font-size="18.5" fill="#000" stroke="#000">=</text><text x="378.20" y="390.50" font-size="16.5" fill="#000" stroke="#000">50</text><text x="399.32" y="390.50" font-size="16.5" fill="#000" stroke="#000">μm</text></g>
<g class="eq"><text x="320.23" y="209.60" font-size="16.5" font-style="italic" fill="#000" stroke="#000">R</text><text transform="translate(333.43 209.60) scale(1 0.85)" font-size="18.5" fill="#000" stroke="#000">=</text><text x="348.73" y="209.60" font-size="16.5" font-style="italic" fill="#000" stroke="#000">R</text><text x="359.02" y="216.20" font-size="10.5" fill="#000" stroke="#000">c</text><text transform="translate(366.12 209.60) scale(1 0.85)" font-size="18.5" fill="#000" stroke="#000">=</text><text x="381.45" y="209.60" font-size="16.5" fill="#000" stroke="#000">38</text><text x="401.93" y="209.60" font-size="16.5" fill="#000" stroke="#000">μm</text></g>
</svg>
</body></html>
